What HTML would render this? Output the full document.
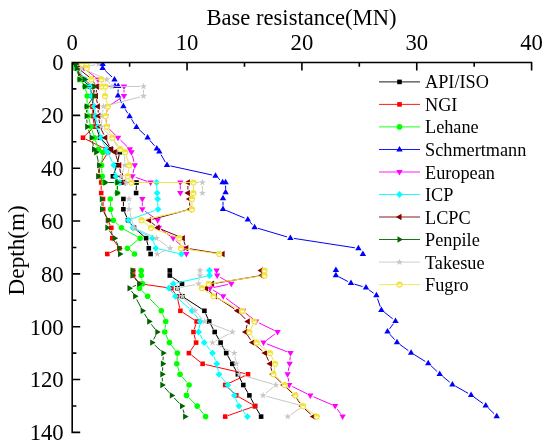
<!DOCTYPE html>
<html><head><meta charset="utf-8"><title>Base resistance</title>
<style>html,body{margin:0;padding:0;background:#fff}svg{display:block}text{font-family:"Liberation Serif","Times New Roman",serif;fill:#000}</style></head>
<body>
<svg width="550" height="447" viewBox="0 0 550 447">
<rect width="550" height="447" fill="#fff"/>
<defs><clipPath id="pa"><rect x="72.2" y="62.5" width="469.40000000000003" height="379.9"/></clipPath></defs>
<g id="s-black" clip-path="url(#pa)">
<path d="M77.4,70.7L80.6,76.8M84.2,81.4L87.8,84.5M90.6,89.4L91.4,93.1M92.3,99.0L92.7,103.5M93.3,109.5L93.7,113.0M94.6,118.9L95.4,123.8M97.0,129.5L99.0,134.9M102.1,139.9L108.9,147.0M113.8,150.2L116.9,151.2M119.1,155.1L117.6,162.3M116.0,168.0L113.9,173.5M115.3,178.1L118.6,180.7M124.0,182.5L133.5,182.5M136.4,185.5L136.2,190.0" fill="none" stroke="#000000" stroke-width="1"/>
<path d="M123.4,202.0L123.4,206.3M124.6,212.1L126.8,217.4M129.9,222.6L132.1,225.4M136.3,229.8L143.8,236.2M146.9,241.1L148.0,245.4" fill="none" stroke="#000000" stroke-width="1"/>
<path d="M172.3,277.2L179.5,282.1M179.8,285.9L179.6,286.1M179.0,290.8L180.8,293.7M184.9,298.0L201.9,309.1M205.6,313.5L208.0,318.8M210.6,324.2L213.3,329.3M216.2,334.6L219.1,340.0M222.0,345.2L224.8,350.5M227.7,355.7L230.8,361.2M233.7,366.4L236.5,371.7M239.3,377.0L241.9,382.3M244.8,387.6L247.9,392.8M250.8,398.1L253.6,403.4M256.5,408.7L259.6,414.0" fill="none" stroke="#000000" stroke-width="1"/>
<rect x="71.7" y="61.6" width="4.6" height="4.6" fill="#000000"/>
<rect x="73.7" y="65.8" width="4.6" height="4.6" fill="#000000"/>
<rect x="79.7" y="77.1" width="4.6" height="4.6" fill="#000000"/>
<rect x="87.7" y="84.2" width="4.6" height="4.6" fill="#000000"/>
<rect x="89.7" y="93.7" width="4.6" height="4.6" fill="#000000"/>
<rect x="90.7" y="104.2" width="4.6" height="4.6" fill="#000000"/>
<rect x="91.7" y="113.7" width="4.6" height="4.6" fill="#000000"/>
<rect x="93.7" y="124.4" width="4.6" height="4.6" fill="#000000"/>
<rect x="97.7" y="135.4" width="4.6" height="4.6" fill="#000000"/>
<rect x="108.7" y="146.9" width="4.6" height="4.6" fill="#000000"/>
<rect x="117.4" y="149.9" width="4.6" height="4.6" fill="#000000"/>
<rect x="114.7" y="162.9" width="4.6" height="4.6" fill="#000000"/>
<rect x="110.6" y="174.0" width="4.6" height="4.6" fill="#000000"/>
<rect x="118.7" y="180.2" width="4.6" height="4.6" fill="#000000"/>
<rect x="134.2" y="180.2" width="4.6" height="4.6" fill="#000000"/>
<rect x="133.8" y="190.7" width="4.6" height="4.6" fill="#000000"/>
<rect x="121.1" y="196.7" width="4.6" height="4.6" fill="#000000"/>
<rect x="121.1" y="207.0" width="4.6" height="4.6" fill="#000000"/>
<rect x="125.7" y="217.9" width="4.6" height="4.6" fill="#000000"/>
<rect x="131.7" y="225.5" width="4.6" height="4.6" fill="#000000"/>
<rect x="143.8" y="235.9" width="4.6" height="4.6" fill="#000000"/>
<rect x="146.5" y="246.0" width="4.6" height="4.6" fill="#000000"/>
<rect x="148.3" y="251.7" width="4.6" height="4.6" fill="#000000"/>
<rect x="167.5" y="268.2" width="4.6" height="4.6" fill="#000000"/>
<rect x="167.5" y="273.2" width="4.6" height="4.6" fill="#000000"/>
<rect x="179.7" y="281.5" width="4.6" height="4.6" fill="#000000"/>
<rect x="175.1" y="285.9" width="4.6" height="4.6" fill="#000000"/>
<rect x="180.1" y="294.0" width="4.6" height="4.6" fill="#000000"/>
<rect x="202.1" y="308.5" width="4.6" height="4.6" fill="#000000"/>
<rect x="206.9" y="319.2" width="4.6" height="4.6" fill="#000000"/>
<rect x="212.4" y="329.7" width="4.6" height="4.6" fill="#000000"/>
<rect x="218.3" y="340.3" width="4.6" height="4.6" fill="#000000"/>
<rect x="223.9" y="350.8" width="4.6" height="4.6" fill="#000000"/>
<rect x="230.0" y="361.5" width="4.6" height="4.6" fill="#000000"/>
<rect x="235.6" y="372.0" width="4.6" height="4.6" fill="#000000"/>
<rect x="241.0" y="382.7" width="4.6" height="4.6" fill="#000000"/>
<rect x="247.1" y="393.1" width="4.6" height="4.6" fill="#000000"/>
<rect x="252.7" y="403.8" width="4.6" height="4.6" fill="#000000"/>
<rect x="258.8" y="414.3" width="4.6" height="4.6" fill="#000000"/>
</g>
<g id="s-red" clip-path="url(#pa)">
<path d="M77.7,70.5L82.3,77.0M86.4,81.3L90.6,84.6M93.2,89.5L93.5,93.0M93.4,99.0L92.8,103.5M92.7,109.5L92.8,113.0M93.4,119.0L93.9,123.7M92.2,128.8L85.1,135.6M85.7,139.1L102.8,147.8M106.4,154.8L101.6,162.6M99.7,168.2L99.3,173.3M100.0,179.1L100.2,179.7M101.2,185.5L101.2,190.0" fill="none" stroke="#ff0000" stroke-width="1"/>
<path d="M103.1,202.0L103.1,206.3M104.4,212.0L106.8,217.5M109.2,223.0L110.1,225.0M111.6,230.8L112.0,235.2M114.0,240.7L117.7,245.8M116.7,249.6L110.0,252.7" fill="none" stroke="#ff0000" stroke-width="1"/>
<path d="M135.0,277.8L138.1,281.5M143.0,284.2L168.4,287.8M173.1,290.7L175.3,293.8M177.7,299.2L179.7,307.9M182.9,312.5L194.1,319.8M195.8,324.4L194.3,329.1M194.2,334.9L195.4,339.7M194.4,345.1L190.6,350.6M191.3,354.9L200.2,362.0M205.5,364.5L245.1,373.6M245.3,375.6L227.9,383.7M227.4,387.1L234.1,393.3M238.9,396.9L252.4,404.6M252.2,407.1L228.0,415.6" fill="none" stroke="#ff0000" stroke-width="1"/>
<rect x="71.7" y="61.6" width="4.6" height="4.6" fill="#ff0000"/>
<rect x="73.7" y="65.8" width="4.6" height="4.6" fill="#ff0000"/>
<rect x="81.7" y="77.1" width="4.6" height="4.6" fill="#ff0000"/>
<rect x="90.7" y="84.2" width="4.6" height="4.6" fill="#ff0000"/>
<rect x="91.4" y="93.7" width="4.6" height="4.6" fill="#ff0000"/>
<rect x="90.2" y="104.2" width="4.6" height="4.6" fill="#ff0000"/>
<rect x="90.7" y="113.7" width="4.6" height="4.6" fill="#ff0000"/>
<rect x="92.0" y="124.4" width="4.6" height="4.6" fill="#ff0000"/>
<rect x="80.7" y="135.4" width="4.6" height="4.6" fill="#ff0000"/>
<rect x="103.2" y="146.9" width="4.6" height="4.6" fill="#ff0000"/>
<rect x="105.7" y="149.9" width="4.6" height="4.6" fill="#ff0000"/>
<rect x="97.7" y="162.9" width="4.6" height="4.6" fill="#ff0000"/>
<rect x="96.7" y="174.0" width="4.6" height="4.6" fill="#ff0000"/>
<rect x="98.9" y="180.2" width="4.6" height="4.6" fill="#ff0000"/>
<rect x="98.9" y="190.7" width="4.6" height="4.6" fill="#ff0000"/>
<rect x="100.7" y="196.7" width="4.6" height="4.6" fill="#ff0000"/>
<rect x="100.9" y="207.0" width="4.6" height="4.6" fill="#ff0000"/>
<rect x="105.7" y="217.9" width="4.6" height="4.6" fill="#ff0000"/>
<rect x="109.0" y="225.5" width="4.6" height="4.6" fill="#ff0000"/>
<rect x="110.0" y="235.9" width="4.6" height="4.6" fill="#ff0000"/>
<rect x="117.1" y="246.0" width="4.6" height="4.6" fill="#ff0000"/>
<rect x="105.0" y="251.7" width="4.6" height="4.6" fill="#ff0000"/>
<rect x="130.8" y="268.2" width="4.6" height="4.6" fill="#ff0000"/>
<rect x="130.8" y="273.2" width="4.6" height="4.6" fill="#ff0000"/>
<rect x="137.7" y="281.5" width="4.6" height="4.6" fill="#ff0000"/>
<rect x="169.1" y="285.9" width="4.6" height="4.6" fill="#ff0000"/>
<rect x="174.7" y="294.0" width="4.6" height="4.6" fill="#ff0000"/>
<rect x="178.1" y="308.5" width="4.6" height="4.6" fill="#ff0000"/>
<rect x="194.3" y="319.2" width="4.6" height="4.6" fill="#ff0000"/>
<rect x="191.2" y="329.7" width="4.6" height="4.6" fill="#ff0000"/>
<rect x="193.8" y="340.3" width="4.6" height="4.6" fill="#ff0000"/>
<rect x="186.6" y="350.8" width="4.6" height="4.6" fill="#ff0000"/>
<rect x="200.3" y="361.5" width="4.6" height="4.6" fill="#ff0000"/>
<rect x="245.7" y="372.0" width="4.6" height="4.6" fill="#ff0000"/>
<rect x="222.9" y="382.7" width="4.6" height="4.6" fill="#ff0000"/>
<rect x="234.0" y="393.1" width="4.6" height="4.6" fill="#ff0000"/>
<rect x="252.7" y="403.8" width="4.6" height="4.6" fill="#ff0000"/>
<rect x="222.9" y="414.3" width="4.6" height="4.6" fill="#ff0000"/>
</g>
<g id="s-green" clip-path="url(#pa)">
<path d="M77.0,71.0L79.0,76.5M81.8,81.9L83.2,84.0M85.7,89.5L86.5,93.0M87.1,99.1L87.1,103.4M87.5,109.6L88.0,112.9M89.2,119.0L90.1,123.7M91.8,129.6L93.5,134.8M95.5,140.6L97.4,146.3M102.6,155.3L101.8,162.1M101.7,168.3L102.0,173.2M107.1,182.5L114.2,182.5M117.3,185.6L117.3,189.9" fill="none" stroke="#00ff00" stroke-width="1"/>
<path d="M110.4,202.1L110.5,206.2M111.3,212.3L112.6,217.2M115.6,222.3L119.1,225.7M124.1,229.3L137.4,236.7M137.7,240.1L129.8,246.4M129.8,250.2L132.1,252.1" fill="none" stroke="#00ff00" stroke-width="1"/>
<path d="M141.7,278.6L142.1,280.7M141.7,290.4L145.4,294.1M149.7,298.6L159.2,308.5M162.5,313.7L164.5,318.6M165.4,324.6L165.0,328.9M166.0,334.8L168.1,339.8M171.3,345.1L175.5,350.6M177.2,356.2L177.0,360.7M177.7,366.8L179.1,371.3M182.0,376.7L187.1,382.6M188.3,388.0L187.3,392.4M188.7,397.6L195.0,403.9M199.1,408.5L203.7,414.2" fill="none" stroke="#00ff00" stroke-width="1"/>
<circle cx="74.0" cy="63.9" r="2.8" fill="#00ff00"/>
<circle cx="76.0" cy="68.1" r="2.8" fill="#00ff00"/>
<circle cx="80.0" cy="79.4" r="2.8" fill="#00ff00"/>
<circle cx="85.0" cy="86.5" r="2.8" fill="#00ff00"/>
<circle cx="87.2" cy="96.0" r="2.8" fill="#00ff00"/>
<circle cx="87.0" cy="106.5" r="2.8" fill="#00ff00"/>
<circle cx="88.5" cy="116.0" r="2.8" fill="#00ff00"/>
<circle cx="90.8" cy="126.7" r="2.8" fill="#00ff00"/>
<circle cx="94.5" cy="137.7" r="2.8" fill="#00ff00"/>
<circle cx="98.4" cy="149.2" r="2.8" fill="#00ff00"/>
<circle cx="102.9" cy="152.2" r="2.8" fill="#00ff00"/>
<circle cx="101.5" cy="165.2" r="2.8" fill="#00ff00"/>
<circle cx="102.2" cy="176.3" r="2.8" fill="#00ff00"/>
<circle cx="104.0" cy="182.5" r="2.8" fill="#00ff00"/>
<circle cx="117.3" cy="182.5" r="2.8" fill="#00ff00"/>
<circle cx="117.3" cy="193.0" r="2.8" fill="#00ff00"/>
<circle cx="110.3" cy="199.0" r="2.8" fill="#00ff00"/>
<circle cx="110.6" cy="209.3" r="2.8" fill="#00ff00"/>
<circle cx="113.3" cy="220.2" r="2.8" fill="#00ff00"/>
<circle cx="121.4" cy="227.8" r="2.8" fill="#00ff00"/>
<circle cx="140.1" cy="238.2" r="2.8" fill="#00ff00"/>
<circle cx="127.4" cy="248.3" r="2.8" fill="#00ff00"/>
<circle cx="134.5" cy="254.0" r="2.8" fill="#00ff00"/>
<circle cx="141.2" cy="270.5" r="2.8" fill="#00ff00"/>
<circle cx="141.2" cy="275.5" r="2.8" fill="#00ff00"/>
<circle cx="142.6" cy="283.8" r="2.8" fill="#00ff00"/>
<circle cx="139.5" cy="288.2" r="2.8" fill="#00ff00"/>
<circle cx="147.6" cy="296.3" r="2.8" fill="#00ff00"/>
<circle cx="161.3" cy="310.8" r="2.8" fill="#00ff00"/>
<circle cx="165.7" cy="321.5" r="2.8" fill="#00ff00"/>
<circle cx="164.7" cy="332.0" r="2.8" fill="#00ff00"/>
<circle cx="169.4" cy="342.6" r="2.8" fill="#00ff00"/>
<circle cx="177.4" cy="353.1" r="2.8" fill="#00ff00"/>
<circle cx="176.8" cy="363.8" r="2.8" fill="#00ff00"/>
<circle cx="180.0" cy="374.3" r="2.8" fill="#00ff00"/>
<circle cx="189.1" cy="385.0" r="2.8" fill="#00ff00"/>
<circle cx="186.5" cy="395.4" r="2.8" fill="#00ff00"/>
<circle cx="197.2" cy="406.1" r="2.8" fill="#00ff00"/>
<circle cx="205.6" cy="416.6" r="2.8" fill="#00ff00"/>
</g>
<g id="s-blue" clip-path="url(#pa)">
<path d="M105.1,70.5L112.0,77.0M118.1,89.5L118.1,92.1M119.6,98.7L121.8,103.2M125.2,109.3L127.8,113.3M131.5,119.2L134.6,124.2M139.0,129.5L145.1,135.2M149.8,140.3L154.6,145.9M161.0,154.6L165.3,162.1M170.4,165.9L212.1,175.0M218.1,178.1L220.0,179.9M225.6,185.7L225.6,188.8" fill="none" stroke="#0000ff" stroke-width="1"/>
<path d="M223.0,201.8L223.0,205.5M226.2,210.4L244.6,218.1M250.1,222.1L252.3,224.7M258.0,228.3L287.0,236.9M293.9,238.4L354.9,247.8" fill="none" stroke="#0000ff" stroke-width="1"/>
<path d="M339.0,276.9L347.9,281.5M354.4,284.1L362.6,286.6M368.8,289.7L373.6,293.2M377.5,298.6L380.3,306.7M384.2,312.1L392.7,318.8M393.4,323.7L389.6,328.8M389.8,334.2L394.7,339.7M399.8,344.4L408.3,350.6M414.1,354.5L425.2,361.4M430.8,365.6L437.1,371.5M442.4,376.1L449.7,382.2M455.4,386.1L468.1,393.3M473.9,397.0L482.9,403.5M488.2,407.9L494.2,413.8" fill="none" stroke="#0000ff" stroke-width="1"/>
<polygon points="99.4,65.9 105.8,65.9 102.6,60.4" fill="#0000ff"/>
<polygon points="99.4,70.1 105.8,70.1 102.6,64.6" fill="#0000ff"/>
<polygon points="111.3,81.4 117.7,81.4 114.5,75.9" fill="#0000ff"/>
<polygon points="111.8,88.0 118.2,88.0 115.0,82.5" fill="#0000ff"/>
<polygon points="115.0,88.0 121.4,88.0 118.2,82.5" fill="#0000ff"/>
<polygon points="114.8,97.6 121.2,97.6 118.0,92.1" fill="#0000ff"/>
<polygon points="120.2,108.3 126.6,108.3 123.4,102.8" fill="#0000ff"/>
<polygon points="126.4,118.3 132.8,118.3 129.6,112.8" fill="#0000ff"/>
<polygon points="133.3,129.1 139.7,129.1 136.5,123.6" fill="#0000ff"/>
<polygon points="144.4,139.6 150.8,139.6 147.6,134.1" fill="#0000ff"/>
<polygon points="153.6,150.6 160.0,150.6 156.8,145.1" fill="#0000ff"/>
<polygon points="156.1,153.6 162.5,153.6 159.3,148.1" fill="#0000ff"/>
<polygon points="163.8,167.1 170.2,167.1 167.0,161.6" fill="#0000ff"/>
<polygon points="212.3,177.8 218.7,177.8 215.5,172.3" fill="#0000ff"/>
<polygon points="219.4,184.2 225.8,184.2 222.6,178.7" fill="#0000ff"/>
<polygon points="222.4,184.2 228.8,184.2 225.6,178.7" fill="#0000ff"/>
<polygon points="222.4,194.3 228.8,194.3 225.6,188.8" fill="#0000ff"/>
<polygon points="219.8,200.3 226.2,200.3 223.0,194.8" fill="#0000ff"/>
<polygon points="219.8,211.0 226.2,211.0 223.0,205.5" fill="#0000ff"/>
<polygon points="244.6,221.5 251.0,221.5 247.8,216.0" fill="#0000ff"/>
<polygon points="251.4,229.3 257.8,229.3 254.6,223.8" fill="#0000ff"/>
<polygon points="287.2,239.9 293.6,239.9 290.4,234.4" fill="#0000ff"/>
<polygon points="355.2,250.3 361.6,250.3 358.4,244.8" fill="#0000ff"/>
<polygon points="359.7,256.0 366.1,256.0 362.9,250.5" fill="#0000ff"/>
<polygon points="332.7,272.1 339.1,272.1 335.9,266.6" fill="#0000ff"/>
<polygon points="332.7,277.3 339.1,277.3 335.9,271.8" fill="#0000ff"/>
<polygon points="347.8,285.1 354.2,285.1 351.0,279.6" fill="#0000ff"/>
<polygon points="362.8,289.6 369.2,289.6 366.0,284.1" fill="#0000ff"/>
<polygon points="373.2,297.3 379.6,297.3 376.4,291.8" fill="#0000ff"/>
<polygon points="378.2,312.0 384.6,312.0 381.4,306.5" fill="#0000ff"/>
<polygon points="392.3,322.9 398.7,322.9 395.5,317.4" fill="#0000ff"/>
<polygon points="384.3,333.6 390.7,333.6 387.5,328.1" fill="#0000ff"/>
<polygon points="393.8,344.3 400.2,344.3 397.0,338.8" fill="#0000ff"/>
<polygon points="407.9,354.7 414.3,354.7 411.1,349.2" fill="#0000ff"/>
<polygon points="425.0,365.2 431.4,365.2 428.2,359.7" fill="#0000ff"/>
<polygon points="436.5,375.9 442.9,375.9 439.7,370.4" fill="#0000ff"/>
<polygon points="449.2,386.4 455.6,386.4 452.4,380.9" fill="#0000ff"/>
<polygon points="467.9,397.0 474.3,397.0 471.1,391.5" fill="#0000ff"/>
<polygon points="482.5,407.5 488.9,407.5 485.7,402.0" fill="#0000ff"/>
<polygon points="493.5,418.2 499.9,418.2 496.7,412.7" fill="#0000ff"/>
</g>
<g id="s-magenta" clip-path="url(#pa)">
<path d="M86.7,70.3L95.3,77.2M102.0,86.5L120.5,86.5M124.0,90.0L124.0,92.5M121.1,97.9L110.9,104.6M107.1,109.9L106.5,112.6M106.1,119.5L106.5,123.2M109.5,129.2L115.5,135.2M120.5,140.1L127.3,146.8M132.4,155.6L133.9,161.8M134.1,168.6L133.1,172.9M135.7,177.4L147.3,181.4M154.1,182.5L176.8,182.5M180.3,186.0L180.3,189.5" fill="none" stroke="#ff00ff" stroke-width="1"/>
<path d="M142.3,202.5L142.3,205.8M145.2,211.3L154.8,218.2M158.2,223.7L158.3,224.3M161.6,229.8L170.4,236.2M175.8,240.6L181.4,245.9" fill="none" stroke="#ff00ff" stroke-width="1"/>
<path d="M220.2,277.3L228.3,282.0M227.9,284.5L213.5,287.5M213.1,290.0L220.2,294.5M226.0,298.4L240.2,308.7M245.7,313.0L253.3,319.3M259.1,323.0L274.5,330.5M274.8,334.1L266.3,340.5M266.8,343.9L287.2,351.8M290.2,356.6L289.9,360.3M288.9,367.2L288.3,370.9M288.1,377.8L288.7,381.5M292.3,386.5L307.2,393.9M313.5,396.8L331.9,404.7M337.1,408.9L340.6,413.8" fill="none" stroke="#ff00ff" stroke-width="1"/>
<polygon points="76.8,61.9 83.2,61.9 80.0,67.4" fill="#ff00ff"/>
<polygon points="80.8,66.1 87.2,66.1 84.0,71.6" fill="#ff00ff"/>
<polygon points="94.8,77.4 101.2,77.4 98.0,82.9" fill="#ff00ff"/>
<polygon points="95.3,84.5 101.7,84.5 98.5,90.0" fill="#ff00ff"/>
<polygon points="120.8,84.5 127.2,84.5 124.0,90.0" fill="#ff00ff"/>
<polygon points="120.8,94.0 127.2,94.0 124.0,99.5" fill="#ff00ff"/>
<polygon points="104.8,104.5 111.2,104.5 108.0,110.0" fill="#ff00ff"/>
<polygon points="102.4,114.0 108.8,114.0 105.6,119.5" fill="#ff00ff"/>
<polygon points="103.8,124.7 110.2,124.7 107.0,130.2" fill="#ff00ff"/>
<polygon points="114.8,135.7 121.2,135.7 118.0,141.2" fill="#ff00ff"/>
<polygon points="126.6,147.2 133.0,147.2 129.8,152.7" fill="#ff00ff"/>
<polygon points="128.3,150.2 134.7,150.2 131.5,155.7" fill="#ff00ff"/>
<polygon points="131.6,163.2 138.0,163.2 134.8,168.7" fill="#ff00ff"/>
<polygon points="129.2,174.3 135.6,174.3 132.4,179.8" fill="#ff00ff"/>
<polygon points="147.4,180.5 153.8,180.5 150.6,186.0" fill="#ff00ff"/>
<polygon points="177.1,180.5 183.5,180.5 180.3,186.0" fill="#ff00ff"/>
<polygon points="177.1,191.0 183.5,191.0 180.3,196.5" fill="#ff00ff"/>
<polygon points="139.1,197.0 145.5,197.0 142.3,202.5" fill="#ff00ff"/>
<polygon points="139.1,207.3 145.5,207.3 142.3,212.8" fill="#ff00ff"/>
<polygon points="154.5,218.2 160.9,218.2 157.7,223.7" fill="#ff00ff"/>
<polygon points="155.6,225.8 162.0,225.8 158.8,231.3" fill="#ff00ff"/>
<polygon points="170.0,236.2 176.4,236.2 173.2,241.7" fill="#ff00ff"/>
<polygon points="180.8,246.3 187.2,246.3 184.0,251.8" fill="#ff00ff"/>
<polygon points="183.1,252.0 189.5,252.0 186.3,257.5" fill="#ff00ff"/>
<polygon points="213.4,268.5 219.8,268.5 216.6,274.0" fill="#ff00ff"/>
<polygon points="214.0,273.5 220.4,273.5 217.2,279.0" fill="#ff00ff"/>
<polygon points="228.1,281.8 234.5,281.8 231.3,287.3" fill="#ff00ff"/>
<polygon points="206.9,286.2 213.3,286.2 210.1,291.7" fill="#ff00ff"/>
<polygon points="220.0,294.3 226.4,294.3 223.2,299.8" fill="#ff00ff"/>
<polygon points="239.8,308.8 246.2,308.8 243.0,314.3" fill="#ff00ff"/>
<polygon points="252.8,319.5 259.2,319.5 256.0,325.0" fill="#ff00ff"/>
<polygon points="274.4,330.0 280.8,330.0 277.6,335.5" fill="#ff00ff"/>
<polygon points="260.3,340.6 266.7,340.6 263.5,346.1" fill="#ff00ff"/>
<polygon points="287.3,351.1 293.7,351.1 290.5,356.6" fill="#ff00ff"/>
<polygon points="286.4,361.8 292.8,361.8 289.6,367.3" fill="#ff00ff"/>
<polygon points="284.4,372.3 290.8,372.3 287.6,377.8" fill="#ff00ff"/>
<polygon points="286.0,383.0 292.4,383.0 289.2,388.5" fill="#ff00ff"/>
<polygon points="307.1,393.4 313.5,393.4 310.3,398.9" fill="#ff00ff"/>
<polygon points="331.9,404.1 338.3,404.1 335.1,409.6" fill="#ff00ff"/>
<polygon points="339.4,414.6 345.8,414.6 342.6,420.1" fill="#ff00ff"/>
</g>
<g id="s-cyan" clip-path="url(#pa)">
<path d="M79.8,71.0L83.2,76.5M87.0,82.2L88.0,83.7M90.7,89.8L91.3,92.7M92.7,99.3L93.6,103.2M94.7,109.9L95.1,112.6M96.2,119.3L97.2,123.4M98.8,130.0L100.0,134.4M102.3,140.8L104.9,146.1M109.2,155.3L112.4,162.1M114.4,168.5L115.3,173.0M117.8,179.1L118.1,179.7M123.4,182.5L153.2,182.5M156.8,185.9L156.9,189.6" fill="none" stroke="#00ffff" stroke-width="1"/>
<path d="M157.8,202.4L157.9,205.9M154.8,210.5L131.6,219.0M130.2,223.1L131.2,224.9M136.0,229.4L149.4,236.6M153.5,241.4L154.6,245.1M159.0,249.0L178.0,253.3" fill="none" stroke="#00ffff" stroke-width="1"/>
<path d="M206.2,276.3L176.6,283.0M170.9,290.8L173.3,293.7M178.0,298.5L189.5,308.6M194.2,313.5L198.1,318.8M199.7,324.9L199.1,328.6M200.2,335.0L202.6,339.6M206.3,345.3L210.4,350.4M213.8,356.3L215.5,360.6M217.5,367.1L218.3,371.0M221.2,376.9L225.6,382.4M229.6,387.9L232.5,392.5M235.6,398.5L237.6,403.0M241.0,408.7L245.3,414.0" fill="none" stroke="#00ffff" stroke-width="1"/>
<polygon points="71.6,63.9 75.0,60.5 78.4,63.9 75.0,67.3" fill="#00ffff"/>
<polygon points="74.6,68.1 78.0,64.7 81.4,68.1 78.0,71.5" fill="#00ffff"/>
<polygon points="81.6,79.4 85.0,76.0 88.4,79.4 85.0,82.8" fill="#00ffff"/>
<polygon points="86.6,86.5 90.0,83.1 93.4,86.5 90.0,89.9" fill="#00ffff"/>
<polygon points="88.6,96.0 92.0,92.6 95.4,96.0 92.0,99.4" fill="#00ffff"/>
<polygon points="90.9,106.5 94.3,103.1 97.7,106.5 94.3,109.9" fill="#00ffff"/>
<polygon points="92.1,116.0 95.5,112.6 98.9,116.0 95.5,119.4" fill="#00ffff"/>
<polygon points="94.5,126.7 97.9,123.3 101.3,126.7 97.9,130.1" fill="#00ffff"/>
<polygon points="97.5,137.7 100.9,134.3 104.3,137.7 100.9,141.1" fill="#00ffff"/>
<polygon points="102.9,149.2 106.3,145.8 109.7,149.2 106.3,152.6" fill="#00ffff"/>
<polygon points="104.4,152.2 107.8,148.8 111.2,152.2 107.8,155.6" fill="#00ffff"/>
<polygon points="110.4,165.2 113.8,161.8 117.2,165.2 113.8,168.6" fill="#00ffff"/>
<polygon points="112.5,176.3 115.9,172.9 119.3,176.3 115.9,179.7" fill="#00ffff"/>
<polygon points="116.6,182.5 120.0,179.1 123.4,182.5 120.0,185.9" fill="#00ffff"/>
<polygon points="153.2,182.5 156.6,179.1 160.0,182.5 156.6,185.9" fill="#00ffff"/>
<polygon points="153.7,193.0 157.1,189.6 160.5,193.0 157.1,196.4" fill="#00ffff"/>
<polygon points="154.3,199.0 157.7,195.6 161.1,199.0 157.7,202.4" fill="#00ffff"/>
<polygon points="154.6,209.3 158.0,205.9 161.4,209.3 158.0,212.7" fill="#00ffff"/>
<polygon points="125.0,220.2 128.4,216.8 131.8,220.2 128.4,223.6" fill="#00ffff"/>
<polygon points="129.6,227.8 133.0,224.4 136.4,227.8 133.0,231.2" fill="#00ffff"/>
<polygon points="149.0,238.2 152.4,234.8 155.8,238.2 152.4,241.6" fill="#00ffff"/>
<polygon points="152.3,248.3 155.7,244.9 159.1,248.3 155.7,251.7" fill="#00ffff"/>
<polygon points="177.9,254.0 181.3,250.6 184.7,254.0 181.3,257.4" fill="#00ffff"/>
<polygon points="206.1,270.5 209.5,267.1 212.9,270.5 209.5,273.9" fill="#00ffff"/>
<polygon points="206.1,275.5 209.5,272.1 212.9,275.5 209.5,278.9" fill="#00ffff"/>
<polygon points="169.9,283.8 173.3,280.4 176.7,283.8 173.3,287.2" fill="#00ffff"/>
<polygon points="165.4,288.2 168.8,284.8 172.2,288.2 168.8,291.6" fill="#00ffff"/>
<polygon points="172.0,296.3 175.4,292.9 178.8,296.3 175.4,299.7" fill="#00ffff"/>
<polygon points="188.7,310.8 192.1,307.4 195.5,310.8 192.1,314.2" fill="#00ffff"/>
<polygon points="196.8,321.5 200.2,318.1 203.6,321.5 200.2,324.9" fill="#00ffff"/>
<polygon points="195.2,332.0 198.6,328.6 202.0,332.0 198.6,335.4" fill="#00ffff"/>
<polygon points="200.8,342.6 204.2,339.2 207.6,342.6 204.2,346.0" fill="#00ffff"/>
<polygon points="209.1,353.1 212.5,349.7 215.9,353.1 212.5,356.5" fill="#00ffff"/>
<polygon points="213.4,363.8 216.8,360.4 220.2,363.8 216.8,367.2" fill="#00ffff"/>
<polygon points="215.6,374.3 219.0,370.9 222.4,374.3 219.0,377.7" fill="#00ffff"/>
<polygon points="224.4,385.0 227.8,381.6 231.2,385.0 227.8,388.4" fill="#00ffff"/>
<polygon points="230.9,395.4 234.3,392.0 237.7,395.4 234.3,398.8" fill="#00ffff"/>
<polygon points="235.5,406.1 238.9,402.7 242.3,406.1 238.9,409.5" fill="#00ffff"/>
<polygon points="244.0,416.6 247.4,413.2 250.8,416.6 247.4,420.0" fill="#00ffff"/>
</g>
<g id="s-darkred" clip-path="url(#pa)">
<path d="M80.7,70.3L89.3,77.2M93.9,82.3L94.8,83.6M96.4,90.0L96.3,92.5M96.6,99.4L97.3,103.1M98.1,110.0L98.3,112.5M99.0,119.5L99.5,123.2M101.5,129.9L103.8,134.5M106.8,140.9L109.3,146.0M115.9,155.5L118.1,161.9M119.8,168.7L120.5,172.8M126.9,182.5L184.4,182.5M187.9,186.0L187.9,189.5" fill="none" stroke="#800000" stroke-width="1"/>
<path d="M189.6,202.5L189.8,205.8M186.6,210.2L152.5,219.3M151.7,222.5L155.1,225.5M160.9,229.1L179.7,236.9M184.0,241.5L185.2,245.0M189.8,248.8L219.1,253.5" fill="none" stroke="#800000" stroke-width="1"/>
<path d="M258.0,276.1L215.6,283.2M209.3,285.8L208.8,286.2M208.6,290.5L212.4,294.0M217.9,298.2L234.4,308.9M239.8,313.3L245.3,319.0M247.0,324.9L246.2,328.6M247.3,334.9L250.5,339.7M255.1,344.8L262.3,350.9M266.5,356.3L268.5,360.6M270.8,367.2L271.8,370.9M275.1,376.7L281.1,382.6M286.2,387.4L292.1,393.0M296.6,398.3L299.9,403.2M304.4,408.5L310.7,414.2" fill="none" stroke="#800000" stroke-width="1"/>
<polygon points="77.0,60.7 77.0,67.1 71.5,63.9" fill="#800000"/>
<polygon points="80.0,64.9 80.0,71.3 74.5,68.1" fill="#800000"/>
<polygon points="94.0,76.2 94.0,82.6 88.5,79.4" fill="#800000"/>
<polygon points="98.7,83.3 98.7,89.7 93.2,86.5" fill="#800000"/>
<polygon points="98.0,92.8 98.0,99.2 92.5,96.0" fill="#800000"/>
<polygon points="99.9,103.3 99.9,109.7 94.4,106.5" fill="#800000"/>
<polygon points="100.5,112.8 100.5,119.2 95.0,116.0" fill="#800000"/>
<polygon points="102.0,123.5 102.0,129.9 96.5,126.7" fill="#800000"/>
<polygon points="107.3,134.5 107.3,140.9 101.8,137.7" fill="#800000"/>
<polygon points="112.8,146.0 112.8,152.4 107.3,149.2" fill="#800000"/>
<polygon points="116.7,149.0 116.7,155.4 111.2,152.2" fill="#800000"/>
<polygon points="121.3,162.0 121.3,168.4 115.8,165.2" fill="#800000"/>
<polygon points="123.0,173.1 123.0,179.5 117.5,176.3" fill="#800000"/>
<polygon points="125.4,179.3 125.4,185.7 119.9,182.5" fill="#800000"/>
<polygon points="189.9,179.3 189.9,185.7 184.4,182.5" fill="#800000"/>
<polygon points="189.9,189.8 189.9,196.2 184.4,193.0" fill="#800000"/>
<polygon points="191.4,195.8 191.4,202.2 185.9,199.0" fill="#800000"/>
<polygon points="192.0,206.1 192.0,212.5 186.5,209.3" fill="#800000"/>
<polygon points="151.1,217.0 151.1,223.4 145.6,220.2" fill="#800000"/>
<polygon points="159.7,224.6 159.7,231.0 154.2,227.8" fill="#800000"/>
<polygon points="184.9,235.0 184.9,241.4 179.4,238.2" fill="#800000"/>
<polygon points="188.3,245.1 188.3,251.5 182.8,248.3" fill="#800000"/>
<polygon points="224.6,250.8 224.6,257.2 219.1,254.0" fill="#800000"/>
<polygon points="263.0,267.3 263.0,273.7 257.5,270.5" fill="#800000"/>
<polygon points="263.5,272.3 263.5,278.7 258.0,275.5" fill="#800000"/>
<polygon points="214.1,280.6 214.1,287.0 208.6,283.8" fill="#800000"/>
<polygon points="208.0,285.0 208.0,291.4 202.5,288.2" fill="#800000"/>
<polygon points="217.0,293.1 217.0,299.5 211.5,296.3" fill="#800000"/>
<polygon points="239.3,307.6 239.3,314.0 233.8,310.8" fill="#800000"/>
<polygon points="249.8,318.3 249.8,324.7 244.3,321.5" fill="#800000"/>
<polygon points="247.4,328.8 247.4,335.2 241.9,332.0" fill="#800000"/>
<polygon points="254.4,339.4 254.4,345.8 248.9,342.6" fill="#800000"/>
<polygon points="267.0,349.9 267.0,356.3 261.5,353.1" fill="#800000"/>
<polygon points="272.0,360.6 272.0,367.0 266.5,363.8" fill="#800000"/>
<polygon points="274.6,371.1 274.6,377.5 269.1,374.3" fill="#800000"/>
<polygon points="285.6,381.8 285.6,388.2 280.1,385.0" fill="#800000"/>
<polygon points="296.7,392.2 296.7,398.6 291.2,395.4" fill="#800000"/>
<polygon points="303.8,402.9 303.8,409.3 298.3,406.1" fill="#800000"/>
<polygon points="315.3,413.4 315.3,419.8 309.8,416.6" fill="#800000"/>
</g>
<g id="s-darkgreen" clip-path="url(#pa)">
<path d="M77.8,71.5L78.7,76.0M88.3,86.5L90.8,86.5M94.3,90.0L94.3,92.5M92.2,98.8L88.7,103.7M86.6,110.0L86.6,112.5M86.8,119.5L87.0,123.2M88.5,129.9L90.3,134.5M92.3,141.1L93.3,145.8M97.0,155.6L98.3,161.8M98.8,168.7L98.5,172.8M100.8,178.6L102.7,180.2M108.8,182.5L113.8,182.5M117.3,186.0L117.3,189.5" fill="none" stroke="#006400" stroke-width="1"/>
<path d="M101.9,202.5L101.9,205.8M103.8,212.3L106.5,217.2M107.8,223.7L107.8,224.3M109.3,230.7L112.7,235.3M116.2,241.4L117.9,245.1" fill="none" stroke="#006400" stroke-width="1"/>
<path d="M134.7,278.2L136.9,281.1M135.9,285.3L132.7,286.7M131.5,291.1L133.1,293.4M136.7,299.4L141.0,307.7M144.4,313.8L147.4,318.5M151.3,324.3L155.2,329.2M155.8,335.2L153.7,339.4M154.7,345.0L160.8,350.7M163.2,356.6L163.0,360.3M162.7,367.3L162.5,370.8M162.3,377.8L162.3,381.5M164.7,387.6L169.4,392.8M174.2,397.9L179.6,403.6M183.0,409.5L184.1,413.2" fill="none" stroke="#006400" stroke-width="1"/>
<polygon points="74.0,60.7 74.0,67.1 79.5,63.9" fill="#006400"/>
<polygon points="75.0,64.9 75.0,71.3 80.5,68.1" fill="#006400"/>
<polygon points="77.5,76.2 77.5,82.6 83.0,79.4" fill="#006400"/>
<polygon points="82.8,76.2 82.8,82.6 88.3,79.4" fill="#006400"/>
<polygon points="82.8,83.3 82.8,89.7 88.3,86.5" fill="#006400"/>
<polygon points="92.3,83.3 92.3,89.7 97.8,86.5" fill="#006400"/>
<polygon points="92.3,92.8 92.3,99.2 97.8,96.0" fill="#006400"/>
<polygon points="84.6,103.3 84.6,109.7 90.1,106.5" fill="#006400"/>
<polygon points="84.6,112.8 84.6,119.2 90.1,116.0" fill="#006400"/>
<polygon points="85.2,123.5 85.2,129.9 90.7,126.7" fill="#006400"/>
<polygon points="89.6,134.5 89.6,140.9 95.1,137.7" fill="#006400"/>
<polygon points="92.0,146.0 92.0,152.4 97.5,149.2" fill="#006400"/>
<polygon points="94.2,149.0 94.2,155.4 99.7,152.2" fill="#006400"/>
<polygon points="97.1,162.0 97.1,168.4 102.6,165.2" fill="#006400"/>
<polygon points="96.2,173.1 96.2,179.5 101.7,176.3" fill="#006400"/>
<polygon points="103.3,179.3 103.3,185.7 108.8,182.5" fill="#006400"/>
<polygon points="115.3,179.3 115.3,185.7 120.8,182.5" fill="#006400"/>
<polygon points="115.3,189.8 115.3,196.2 120.8,193.0" fill="#006400"/>
<polygon points="99.8,195.8 99.8,202.2 105.3,199.0" fill="#006400"/>
<polygon points="100.0,206.1 100.0,212.5 105.5,209.3" fill="#006400"/>
<polygon points="106.3,217.0 106.3,223.4 111.8,220.2" fill="#006400"/>
<polygon points="105.3,224.6 105.3,231.0 110.8,227.8" fill="#006400"/>
<polygon points="112.7,235.0 112.7,241.4 118.2,238.2" fill="#006400"/>
<polygon points="117.4,245.1 117.4,251.5 122.9,248.3" fill="#006400"/>
<polygon points="118.0,250.8 118.0,257.2 123.5,254.0" fill="#006400"/>
<polygon points="130.5,267.3 130.5,273.7 136.0,270.5" fill="#006400"/>
<polygon points="130.5,272.3 130.5,278.7 136.0,275.5" fill="#006400"/>
<polygon points="137.1,280.6 137.1,287.0 142.6,283.8" fill="#006400"/>
<polygon points="127.5,285.0 127.5,291.4 133.0,288.2" fill="#006400"/>
<polygon points="133.1,293.1 133.1,299.5 138.6,296.3" fill="#006400"/>
<polygon points="140.6,307.6 140.6,314.0 146.1,310.8" fill="#006400"/>
<polygon points="147.2,318.3 147.2,324.7 152.7,321.5" fill="#006400"/>
<polygon points="155.3,328.8 155.3,335.2 160.8,332.0" fill="#006400"/>
<polygon points="150.2,339.4 150.2,345.8 155.7,342.6" fill="#006400"/>
<polygon points="161.3,349.9 161.3,356.3 166.8,353.1" fill="#006400"/>
<polygon points="160.9,360.6 160.9,367.0 166.4,363.8" fill="#006400"/>
<polygon points="160.3,371.1 160.3,377.5 165.8,374.3" fill="#006400"/>
<polygon points="160.3,381.8 160.3,388.2 165.8,385.0" fill="#006400"/>
<polygon points="169.8,392.2 169.8,398.6 175.3,395.4" fill="#006400"/>
<polygon points="180.0,402.9 180.0,409.3 185.5,406.1" fill="#006400"/>
<polygon points="183.1,413.4 183.1,419.8 188.6,416.6" fill="#006400"/>
</g>
<g id="s-gray" clip-path="url(#pa)">
<path d="M95.2,64.7L84.6,67.3M84.4,69.5L103.7,78.0M108.8,82.1L110.0,83.8M115.4,86.5L140.1,86.5M143.5,89.9L143.5,92.6M140.2,96.9L106.8,105.6M103.0,109.9L102.5,112.6M101.8,119.4L101.6,123.3M103.7,129.2L109.5,135.2M113.7,140.5L117.6,146.4M124.6,155.6L124.7,161.8M123.8,168.5L122.4,173.0M123.4,179.0L124.0,179.8M129.4,182.5L199.0,182.5M202.4,185.9L202.4,189.6" fill="none" stroke="#c8c8c8" stroke-width="1"/>
<path d="M129.0,202.4L129.0,205.9M129.9,212.6L133.2,224.5M137.2,229.2L153.4,236.8M159.2,240.2L167.4,246.3M167.0,249.7L160.4,252.6" fill="none" stroke="#c8c8c8" stroke-width="1"/>
<path d="M199.4,278.9L199.2,280.4M195.3,284.5L180.7,287.5M179.2,291.1L180.6,293.4M184.6,298.9L192.7,308.2M197.2,313.3L202.3,319.0M207.8,322.7L229.1,330.8M229.3,333.6L215.5,341.0M215.6,344.1L231.2,351.6M234.9,356.4L235.7,360.5M237.2,367.1L238.4,371.0M242.6,375.3L272.5,384.0M273.2,387.2L265.7,393.2M266.4,396.3L300.0,405.2M300.5,408.0L290.6,414.7" fill="none" stroke="#c8c8c8" stroke-width="1"/>
<polygon points="98.5,60.2 99.4,62.7 102.0,62.8 99.9,64.4 100.7,66.9 98.5,65.4 96.3,66.9 97.1,64.4 95.0,62.8 97.6,62.7" fill="#c8c8c8"/>
<polygon points="81.3,64.4 82.2,66.9 84.8,67.0 82.7,68.6 83.5,71.1 81.3,69.6 79.1,71.1 79.9,68.6 77.8,67.0 80.4,66.9" fill="#c8c8c8"/>
<polygon points="106.8,75.7 107.7,78.2 110.3,78.3 108.2,79.9 109.0,82.4 106.8,80.9 104.6,82.4 105.4,79.9 103.3,78.3 105.9,78.2" fill="#c8c8c8"/>
<polygon points="112.0,82.8 112.9,85.3 115.5,85.4 113.4,87.0 114.2,89.5 112.0,88.0 109.8,89.5 110.6,87.0 108.5,85.4 111.1,85.3" fill="#c8c8c8"/>
<polygon points="143.5,82.8 144.4,85.3 147.0,85.4 144.9,87.0 145.7,89.5 143.5,88.0 141.3,89.5 142.1,87.0 140.0,85.4 142.6,85.3" fill="#c8c8c8"/>
<polygon points="143.5,92.3 144.4,94.8 147.0,94.9 144.9,96.5 145.7,99.0 143.5,97.5 141.3,99.0 142.1,96.5 140.0,94.9 142.6,94.8" fill="#c8c8c8"/>
<polygon points="103.5,102.8 104.4,105.3 107.0,105.4 104.9,107.0 105.7,109.5 103.5,108.0 101.3,109.5 102.1,107.0 100.0,105.4 102.6,105.3" fill="#c8c8c8"/>
<polygon points="102.0,112.3 102.9,114.8 105.5,114.9 103.4,116.5 104.2,119.0 102.0,117.5 99.8,119.0 100.6,116.5 98.5,114.9 101.1,114.8" fill="#c8c8c8"/>
<polygon points="101.4,123.0 102.3,125.5 104.9,125.6 102.8,127.2 103.6,129.7 101.4,128.2 99.2,129.7 100.0,127.2 97.9,125.6 100.5,125.5" fill="#c8c8c8"/>
<polygon points="111.8,134.0 112.7,136.5 115.3,136.6 113.2,138.2 114.0,140.7 111.8,139.2 109.6,140.7 110.4,138.2 108.3,136.6 110.9,136.5" fill="#c8c8c8"/>
<polygon points="119.5,145.5 120.4,148.0 123.0,148.1 120.9,149.7 121.7,152.2 119.5,150.7 117.3,152.2 118.1,149.7 116.0,148.1 118.6,148.0" fill="#c8c8c8"/>
<polygon points="124.5,148.5 125.4,151.0 128.0,151.1 125.9,152.7 126.7,155.2 124.5,153.7 122.3,155.2 123.1,152.7 121.0,151.1 123.6,151.0" fill="#c8c8c8"/>
<polygon points="124.8,161.5 125.7,164.0 128.3,164.1 126.2,165.7 127.0,168.2 124.8,166.7 122.6,168.2 123.4,165.7 121.3,164.1 123.9,164.0" fill="#c8c8c8"/>
<polygon points="121.4,172.6 122.3,175.1 124.9,175.2 122.8,176.8 123.6,179.3 121.4,177.8 119.2,179.3 120.0,176.8 117.9,175.2 120.5,175.1" fill="#c8c8c8"/>
<polygon points="126.0,178.8 126.9,181.3 129.5,181.4 127.4,183.0 128.2,185.5 126.0,184.0 123.8,185.5 124.6,183.0 122.5,181.4 125.1,181.3" fill="#c8c8c8"/>
<polygon points="202.4,178.8 203.3,181.3 205.9,181.4 203.8,183.0 204.6,185.5 202.4,184.0 200.2,185.5 201.0,183.0 198.9,181.4 201.5,181.3" fill="#c8c8c8"/>
<polygon points="202.4,189.3 203.3,191.8 205.9,191.9 203.8,193.5 204.6,196.0 202.4,194.5 200.2,196.0 201.0,193.5 198.9,191.9 201.5,191.8" fill="#c8c8c8"/>
<polygon points="129.0,195.3 129.9,197.8 132.5,197.9 130.4,199.5 131.2,202.0 129.0,200.5 126.8,202.0 127.6,199.5 125.5,197.9 128.1,197.8" fill="#c8c8c8"/>
<polygon points="129.0,205.6 129.9,208.1 132.5,208.2 130.4,209.8 131.2,212.3 129.0,210.8 126.8,212.3 127.6,209.8 125.5,208.2 128.1,208.1" fill="#c8c8c8"/>
<polygon points="134.1,224.1 135.0,226.6 137.6,226.7 135.5,228.3 136.3,230.8 134.1,229.3 131.9,230.8 132.7,228.3 130.6,226.7 133.2,226.6" fill="#c8c8c8"/>
<polygon points="156.5,234.5 157.4,237.0 160.0,237.1 157.9,238.7 158.7,241.2 156.5,239.7 154.3,241.2 155.1,238.7 153.0,237.1 155.6,237.0" fill="#c8c8c8"/>
<polygon points="170.1,244.6 171.0,247.1 173.6,247.2 171.5,248.8 172.3,251.3 170.1,249.8 167.9,251.3 168.7,248.8 166.6,247.2 169.2,247.1" fill="#c8c8c8"/>
<polygon points="157.3,250.3 158.2,252.8 160.8,252.9 158.7,254.5 159.5,257.0 157.3,255.5 155.1,257.0 155.9,254.5 153.8,252.9 156.4,252.8" fill="#c8c8c8"/>
<polygon points="200.0,266.8 200.9,269.3 203.5,269.4 201.4,271.0 202.2,273.5 200.0,272.0 197.8,273.5 198.6,271.0 196.5,269.4 199.1,269.3" fill="#c8c8c8"/>
<polygon points="200.0,271.8 200.9,274.3 203.5,274.4 201.4,276.0 202.2,278.5 200.0,277.0 197.8,278.5 198.6,276.0 196.5,274.4 199.1,274.3" fill="#c8c8c8"/>
<polygon points="198.6,280.1 199.5,282.6 202.1,282.7 200.0,284.3 200.8,286.8 198.6,285.3 196.4,286.8 197.2,284.3 195.1,282.7 197.7,282.6" fill="#c8c8c8"/>
<polygon points="177.4,284.5 178.3,287.0 180.9,287.1 178.8,288.7 179.6,291.2 177.4,289.7 175.2,291.2 176.0,288.7 173.9,287.1 176.5,287.0" fill="#c8c8c8"/>
<polygon points="182.4,292.6 183.3,295.1 185.9,295.2 183.8,296.8 184.6,299.3 182.4,297.8 180.2,299.3 181.0,296.8 178.9,295.2 181.5,295.1" fill="#c8c8c8"/>
<polygon points="194.9,307.1 195.8,309.6 198.4,309.7 196.3,311.3 197.1,313.8 194.9,312.3 192.7,313.8 193.5,311.3 191.4,309.7 194.0,309.6" fill="#c8c8c8"/>
<polygon points="204.6,317.8 205.5,320.3 208.1,320.4 206.0,322.0 206.8,324.5 204.6,323.0 202.4,324.5 203.2,322.0 201.1,320.4 203.7,320.3" fill="#c8c8c8"/>
<polygon points="232.3,328.3 233.2,330.8 235.8,330.9 233.7,332.5 234.5,335.0 232.3,333.5 230.1,335.0 230.9,332.5 228.8,330.9 231.4,330.8" fill="#c8c8c8"/>
<polygon points="212.5,338.9 213.4,341.4 216.0,341.5 213.9,343.1 214.7,345.6 212.5,344.1 210.3,345.6 211.1,343.1 209.0,341.5 211.6,341.4" fill="#c8c8c8"/>
<polygon points="234.3,349.4 235.2,351.9 237.8,352.0 235.7,353.6 236.5,356.1 234.3,354.6 232.1,356.1 232.9,353.6 230.8,352.0 233.4,351.9" fill="#c8c8c8"/>
<polygon points="236.3,360.1 237.2,362.6 239.8,362.7 237.7,364.3 238.5,366.8 236.3,365.3 234.1,366.8 234.9,364.3 232.8,362.7 235.4,362.6" fill="#c8c8c8"/>
<polygon points="239.3,370.6 240.2,373.1 242.8,373.2 240.7,374.8 241.5,377.3 239.3,375.8 237.1,377.3 237.9,374.8 235.8,373.2 238.4,373.1" fill="#c8c8c8"/>
<polygon points="275.8,381.3 276.7,383.8 279.3,383.9 277.2,385.5 278.0,388.0 275.8,386.5 273.6,388.0 274.4,385.5 272.3,383.9 274.9,383.8" fill="#c8c8c8"/>
<polygon points="263.1,391.7 264.0,394.2 266.6,394.3 264.5,395.9 265.3,398.4 263.1,396.9 260.9,398.4 261.7,395.9 259.6,394.3 262.2,394.2" fill="#c8c8c8"/>
<polygon points="303.3,402.4 304.2,404.9 306.8,405.0 304.7,406.6 305.5,409.1 303.3,407.6 301.1,409.1 301.9,406.6 299.8,405.0 302.4,404.9" fill="#c8c8c8"/>
<polygon points="287.8,412.9 288.7,415.4 291.3,415.5 289.2,417.1 290.0,419.6 287.8,418.1 285.6,419.6 286.4,417.1 284.3,415.5 286.9,415.4" fill="#c8c8c8"/>
</g>
<g id="s-yellow" clip-path="url(#pa)">
<path d="M88.0,71.2L90.2,76.3M94.7,79.4L98.1,79.4M101.7,82.7L101.7,83.2M105.4,89.8L105.2,92.7M105.9,99.2L107.1,103.3M107.2,109.7L106.4,112.8M106.0,119.3L106.4,123.4M108.3,129.6L111.0,134.8M114.4,140.4L118.4,146.5M126.2,155.4L128.3,162.0M128.8,168.5L128.2,173.0M129.5,179.2L129.7,179.6M134.7,182.5L190.1,182.5M193.4,185.8L193.4,189.7" fill="none" stroke="#f0e442" stroke-width="1"/>
<path d="M192.0,202.3L192.0,206.0M188.8,210.0L144.8,219.5M144.2,222.3L148.5,225.7M154.2,228.9L176.2,237.1M179.8,241.5L180.4,245.0M184.2,248.8L215.9,253.5" fill="none" stroke="#f0e442" stroke-width="1"/>
<path d="M261.2,276.0L212.0,283.3M205.9,285.6L204.8,286.4M204.7,290.1L210.8,294.4M216.4,297.8L239.4,309.3M244.8,313.0L251.9,319.3M253.0,324.5L250.8,329.0M251.3,334.7L254.7,339.9M259.2,344.6L267.4,351.1M271.4,356.1L273.7,360.8M274.6,367.1L274.0,371.0M275.9,376.6L282.4,382.7M287.2,387.3L293.0,393.1M297.3,398.1L301.1,403.4M305.6,408.1L314.2,414.6" fill="none" stroke="#f0e442" stroke-width="1"/>
<circle cx="82.0" cy="63.9" r="2.5" fill="#fffef0" stroke="#f0e442" stroke-width="1.25"/><path d="M79.5,63.9 A2.5,2.5 0 0 1 84.5,63.9 Z" fill="#f0e442"/>
<circle cx="86.5" cy="63.9" r="2.5" fill="#fffef0" stroke="#f0e442" stroke-width="1.25"/><path d="M84.0,63.9 A2.5,2.5 0 0 1 89.0,63.9 Z" fill="#f0e442"/>
<circle cx="86.8" cy="68.1" r="2.5" fill="#fffef0" stroke="#f0e442" stroke-width="1.25"/><path d="M84.2,68.1 A2.5,2.5 0 0 1 89.3,68.1 Z" fill="#f0e442"/>
<circle cx="91.4" cy="79.4" r="2.5" fill="#fffef0" stroke="#f0e442" stroke-width="1.25"/><path d="M88.9,79.4 A2.5,2.5 0 0 1 94.0,79.4 Z" fill="#f0e442"/>
<circle cx="101.4" cy="79.4" r="2.5" fill="#fffef0" stroke="#f0e442" stroke-width="1.25"/><path d="M98.9,79.4 A2.5,2.5 0 0 1 104.0,79.4 Z" fill="#f0e442"/>
<circle cx="102.0" cy="86.5" r="2.5" fill="#fffef0" stroke="#f0e442" stroke-width="1.25"/><path d="M99.5,86.5 A2.5,2.5 0 0 1 104.5,86.5 Z" fill="#f0e442"/>
<circle cx="105.6" cy="86.5" r="2.5" fill="#fffef0" stroke="#f0e442" stroke-width="1.25"/><path d="M103.0,86.5 A2.5,2.5 0 0 1 108.1,86.5 Z" fill="#f0e442"/>
<circle cx="105.0" cy="96.0" r="2.5" fill="#fffef0" stroke="#f0e442" stroke-width="1.25"/><path d="M102.5,96.0 A2.5,2.5 0 0 1 107.5,96.0 Z" fill="#f0e442"/>
<circle cx="108.0" cy="106.5" r="2.5" fill="#fffef0" stroke="#f0e442" stroke-width="1.25"/><path d="M105.5,106.5 A2.5,2.5 0 0 1 110.5,106.5 Z" fill="#f0e442"/>
<circle cx="105.6" cy="116.0" r="2.5" fill="#fffef0" stroke="#f0e442" stroke-width="1.25"/><path d="M103.0,116.0 A2.5,2.5 0 0 1 108.1,116.0 Z" fill="#f0e442"/>
<circle cx="106.8" cy="126.7" r="2.5" fill="#fffef0" stroke="#f0e442" stroke-width="1.25"/><path d="M104.2,126.7 A2.5,2.5 0 0 1 109.3,126.7 Z" fill="#f0e442"/>
<circle cx="112.5" cy="137.7" r="2.5" fill="#fffef0" stroke="#f0e442" stroke-width="1.25"/><path d="M110.0,137.7 A2.5,2.5 0 0 1 115.0,137.7 Z" fill="#f0e442"/>
<circle cx="120.3" cy="149.2" r="2.5" fill="#fffef0" stroke="#f0e442" stroke-width="1.25"/><path d="M117.8,149.2 A2.5,2.5 0 0 1 122.8,149.2 Z" fill="#f0e442"/>
<circle cx="125.3" cy="152.2" r="2.5" fill="#fffef0" stroke="#f0e442" stroke-width="1.25"/><path d="M122.8,152.2 A2.5,2.5 0 0 1 127.8,152.2 Z" fill="#f0e442"/>
<circle cx="129.2" cy="165.2" r="2.5" fill="#fffef0" stroke="#f0e442" stroke-width="1.25"/><path d="M126.6,165.2 A2.5,2.5 0 0 1 131.8,165.2 Z" fill="#f0e442"/>
<circle cx="127.8" cy="176.3" r="2.5" fill="#fffef0" stroke="#f0e442" stroke-width="1.25"/><path d="M125.2,176.3 A2.5,2.5 0 0 1 130.3,176.3 Z" fill="#f0e442"/>
<circle cx="131.4" cy="182.5" r="2.5" fill="#fffef0" stroke="#f0e442" stroke-width="1.25"/><path d="M128.8,182.5 A2.5,2.5 0 0 1 134.0,182.5 Z" fill="#f0e442"/>
<circle cx="193.4" cy="182.5" r="2.5" fill="#fffef0" stroke="#f0e442" stroke-width="1.25"/><path d="M190.8,182.5 A2.5,2.5 0 0 1 196.0,182.5 Z" fill="#f0e442"/>
<circle cx="193.4" cy="193.0" r="2.5" fill="#fffef0" stroke="#f0e442" stroke-width="1.25"/><path d="M190.8,193.0 A2.5,2.5 0 0 1 196.0,193.0 Z" fill="#f0e442"/>
<circle cx="192.0" cy="199.0" r="2.5" fill="#fffef0" stroke="#f0e442" stroke-width="1.25"/><path d="M189.4,199.0 A2.5,2.5 0 0 1 194.6,199.0 Z" fill="#f0e442"/>
<circle cx="192.0" cy="209.3" r="2.5" fill="#fffef0" stroke="#f0e442" stroke-width="1.25"/><path d="M189.4,209.3 A2.5,2.5 0 0 1 194.6,209.3 Z" fill="#f0e442"/>
<circle cx="141.6" cy="220.2" r="2.5" fill="#fffef0" stroke="#f0e442" stroke-width="1.25"/><path d="M139.0,220.2 A2.5,2.5 0 0 1 144.2,220.2 Z" fill="#f0e442"/>
<circle cx="151.1" cy="227.8" r="2.5" fill="#fffef0" stroke="#f0e442" stroke-width="1.25"/><path d="M148.5,227.8 A2.5,2.5 0 0 1 153.7,227.8 Z" fill="#f0e442"/>
<circle cx="179.3" cy="238.2" r="2.5" fill="#fffef0" stroke="#f0e442" stroke-width="1.25"/><path d="M176.8,238.2 A2.5,2.5 0 0 1 181.9,238.2 Z" fill="#f0e442"/>
<circle cx="180.9" cy="248.3" r="2.5" fill="#fffef0" stroke="#f0e442" stroke-width="1.25"/><path d="M178.3,248.3 A2.5,2.5 0 0 1 183.5,248.3 Z" fill="#f0e442"/>
<circle cx="219.2" cy="254.0" r="2.5" fill="#fffef0" stroke="#f0e442" stroke-width="1.25"/><path d="M216.6,254.0 A2.5,2.5 0 0 1 221.8,254.0 Z" fill="#f0e442"/>
<circle cx="264.5" cy="270.5" r="2.5" fill="#fffef0" stroke="#f0e442" stroke-width="1.25"/><path d="M261.9,270.5 A2.5,2.5 0 0 1 267.1,270.5 Z" fill="#f0e442"/>
<circle cx="264.5" cy="275.5" r="2.5" fill="#fffef0" stroke="#f0e442" stroke-width="1.25"/><path d="M261.9,275.5 A2.5,2.5 0 0 1 267.1,275.5 Z" fill="#f0e442"/>
<circle cx="208.7" cy="283.8" r="2.5" fill="#fffef0" stroke="#f0e442" stroke-width="1.25"/><path d="M206.1,283.8 A2.5,2.5 0 0 1 211.2,283.8 Z" fill="#f0e442"/>
<circle cx="202.0" cy="288.2" r="2.5" fill="#fffef0" stroke="#f0e442" stroke-width="1.25"/><path d="M199.4,288.2 A2.5,2.5 0 0 1 204.6,288.2 Z" fill="#f0e442"/>
<circle cx="213.5" cy="296.3" r="2.5" fill="#fffef0" stroke="#f0e442" stroke-width="1.25"/><path d="M210.9,296.3 A2.5,2.5 0 0 1 216.1,296.3 Z" fill="#f0e442"/>
<circle cx="242.3" cy="310.8" r="2.5" fill="#fffef0" stroke="#f0e442" stroke-width="1.25"/><path d="M239.8,310.8 A2.5,2.5 0 0 1 244.9,310.8 Z" fill="#f0e442"/>
<circle cx="254.4" cy="321.5" r="2.5" fill="#fffef0" stroke="#f0e442" stroke-width="1.25"/><path d="M251.8,321.5 A2.5,2.5 0 0 1 256.9,321.5 Z" fill="#f0e442"/>
<circle cx="249.4" cy="332.0" r="2.5" fill="#fffef0" stroke="#f0e442" stroke-width="1.25"/><path d="M246.8,332.0 A2.5,2.5 0 0 1 252.0,332.0 Z" fill="#f0e442"/>
<circle cx="256.6" cy="342.6" r="2.5" fill="#fffef0" stroke="#f0e442" stroke-width="1.25"/><path d="M254.1,342.6 A2.5,2.5 0 0 1 259.2,342.6 Z" fill="#f0e442"/>
<circle cx="270.0" cy="353.1" r="2.5" fill="#fffef0" stroke="#f0e442" stroke-width="1.25"/><path d="M267.4,353.1 A2.5,2.5 0 0 1 272.6,353.1 Z" fill="#f0e442"/>
<circle cx="275.1" cy="363.8" r="2.5" fill="#fffef0" stroke="#f0e442" stroke-width="1.25"/><path d="M272.6,363.8 A2.5,2.5 0 0 1 277.7,363.8 Z" fill="#f0e442"/>
<circle cx="273.5" cy="374.3" r="2.5" fill="#fffef0" stroke="#f0e442" stroke-width="1.25"/><path d="M270.9,374.3 A2.5,2.5 0 0 1 276.1,374.3 Z" fill="#f0e442"/>
<circle cx="284.8" cy="385.0" r="2.5" fill="#fffef0" stroke="#f0e442" stroke-width="1.25"/><path d="M282.2,385.0 A2.5,2.5 0 0 1 287.4,385.0 Z" fill="#f0e442"/>
<circle cx="295.4" cy="395.4" r="2.5" fill="#fffef0" stroke="#f0e442" stroke-width="1.25"/><path d="M292.8,395.4 A2.5,2.5 0 0 1 297.9,395.4 Z" fill="#f0e442"/>
<circle cx="303.0" cy="406.1" r="2.5" fill="#fffef0" stroke="#f0e442" stroke-width="1.25"/><path d="M300.4,406.1 A2.5,2.5 0 0 1 305.6,406.1 Z" fill="#f0e442"/>
<circle cx="316.8" cy="416.6" r="2.5" fill="#fffef0" stroke="#f0e442" stroke-width="1.25"/><path d="M314.2,416.6 A2.5,2.5 0 0 1 319.4,416.6 Z" fill="#f0e442"/>
</g>
<path d="M71.45,62.50 H532.35 M72.20,62.50 V433.15 M72.20,62.50 v8.0 M129.62,62.50 v4.2 M187.05,62.50 v8.0 M244.48,62.50 v4.2 M301.90,62.50 v8.0 M359.32,62.50 v4.2 M416.75,62.50 v8.0 M474.18,62.50 v4.2 M531.60,62.50 v8.0 M72.20,62.50 h8.0 M72.20,88.92 h4.2 M72.20,115.34 h8.0 M72.20,141.76 h4.2 M72.20,168.19 h8.0 M72.20,194.61 h4.2 M72.20,221.03 h8.0 M72.20,247.45 h4.2 M72.20,273.87 h8.0 M72.20,300.29 h4.2 M72.20,326.71 h8.0 M72.20,353.14 h4.2 M72.20,379.56 h8.0 M72.20,405.98 h4.2 M72.20,432.40 h8.0" fill="none" stroke="#000" stroke-width="1.6"/>
<text x="72.2" y="49.8" font-size="22.7" text-anchor="middle">0</text>
<text x="187.1" y="49.8" font-size="22.7" text-anchor="middle">10</text>
<text x="301.9" y="49.8" font-size="22.7" text-anchor="middle">20</text>
<text x="416.8" y="49.8" font-size="22.7" text-anchor="middle">30</text>
<text x="531.6" y="49.8" font-size="22.7" text-anchor="middle">40</text>
<text x="63.7" y="70.3" font-size="22.7" text-anchor="end">0</text>
<text x="63.7" y="123.1" font-size="22.7" text-anchor="end">20</text>
<text x="63.7" y="176.0" font-size="22.7" text-anchor="end">40</text>
<text x="63.7" y="228.8" font-size="22.7" text-anchor="end">60</text>
<text x="63.7" y="281.7" font-size="22.7" text-anchor="end">80</text>
<text x="63.7" y="334.5" font-size="22.7" text-anchor="end">100</text>
<text x="63.7" y="387.4" font-size="22.7" text-anchor="end">120</text>
<text x="63.7" y="440.2" font-size="22.7" text-anchor="end">140</text>
<text x="301.5" y="25.3" font-size="22.6" text-anchor="middle">Base resistance(MN)</text>
<text transform="translate(24,250.3) rotate(-90)" font-size="23.2" text-anchor="middle">Depth(m)</text>
<line x1="379" y1="81.9" x2="420" y2="81.9" stroke="#000000" stroke-width="0.9"/>
<rect x="397.2" y="79.6" width="4.6" height="4.6" fill="#000000"/>
<text x="425" y="88.4" font-size="18.25">API/ISO</text>
<line x1="379" y1="104.4" x2="420" y2="104.4" stroke="#ff0000" stroke-width="0.9"/>
<rect x="397.2" y="102.1" width="4.6" height="4.6" fill="#ff0000"/>
<text x="425" y="110.9" font-size="18.25">NGI</text>
<line x1="379" y1="126.9" x2="420" y2="126.9" stroke="#00ff00" stroke-width="0.9"/>
<circle cx="399.5" cy="126.9" r="2.8" fill="#00ff00"/>
<text x="425" y="133.4" font-size="18.25">Lehane</text>
<line x1="379" y1="149.5" x2="420" y2="149.5" stroke="#0000ff" stroke-width="0.9"/>
<polygon points="396.3,151.5 402.7,151.5 399.5,146.0" fill="#0000ff"/>
<text x="425" y="156.0" font-size="18.25">Schmertmann</text>
<line x1="379" y1="172.0" x2="420" y2="172.0" stroke="#ff00ff" stroke-width="0.9"/>
<polygon points="396.3,170.0 402.7,170.0 399.5,175.5" fill="#ff00ff"/>
<text x="425" y="178.5" font-size="18.25">European</text>
<line x1="379" y1="194.5" x2="420" y2="194.5" stroke="#00ffff" stroke-width="0.9"/>
<polygon points="396.1,194.5 399.5,191.1 402.9,194.5 399.5,197.9" fill="#00ffff"/>
<text x="425" y="201.0" font-size="18.25">ICP</text>
<line x1="379" y1="217.0" x2="420" y2="217.0" stroke="#800000" stroke-width="0.9"/>
<polygon points="401.5,213.8 401.5,220.2 396.0,217.0" fill="#800000"/>
<text x="425" y="223.5" font-size="18.25">LCPC</text>
<line x1="379" y1="239.5" x2="420" y2="239.5" stroke="#006400" stroke-width="0.9"/>
<polygon points="397.5,236.3 397.5,242.7 403.0,239.5" fill="#006400"/>
<text x="425" y="246.0" font-size="18.25">Penpile</text>
<line x1="379" y1="262.1" x2="420" y2="262.1" stroke="#c8c8c8" stroke-width="0.9"/>
<polygon points="399.5,258.4 400.4,260.9 403.0,260.9 400.9,262.5 401.7,265.1 399.5,263.5 397.3,265.1 398.1,262.5 396.0,260.9 398.6,260.9" fill="#c8c8c8"/>
<text x="425" y="268.6" font-size="18.25">Takesue</text>
<line x1="379" y1="284.6" x2="420" y2="284.6" stroke="#f0e442" stroke-width="0.9"/>
<circle cx="399.5" cy="284.6" r="2.5" fill="#fffef0" stroke="#f0e442" stroke-width="1.25"/><path d="M396.9,284.6 A2.5,2.5 0 0 1 402.1,284.6 Z" fill="#f0e442"/>
<text x="425" y="291.1" font-size="18.25">Fugro</text>
</svg>
</body></html>
